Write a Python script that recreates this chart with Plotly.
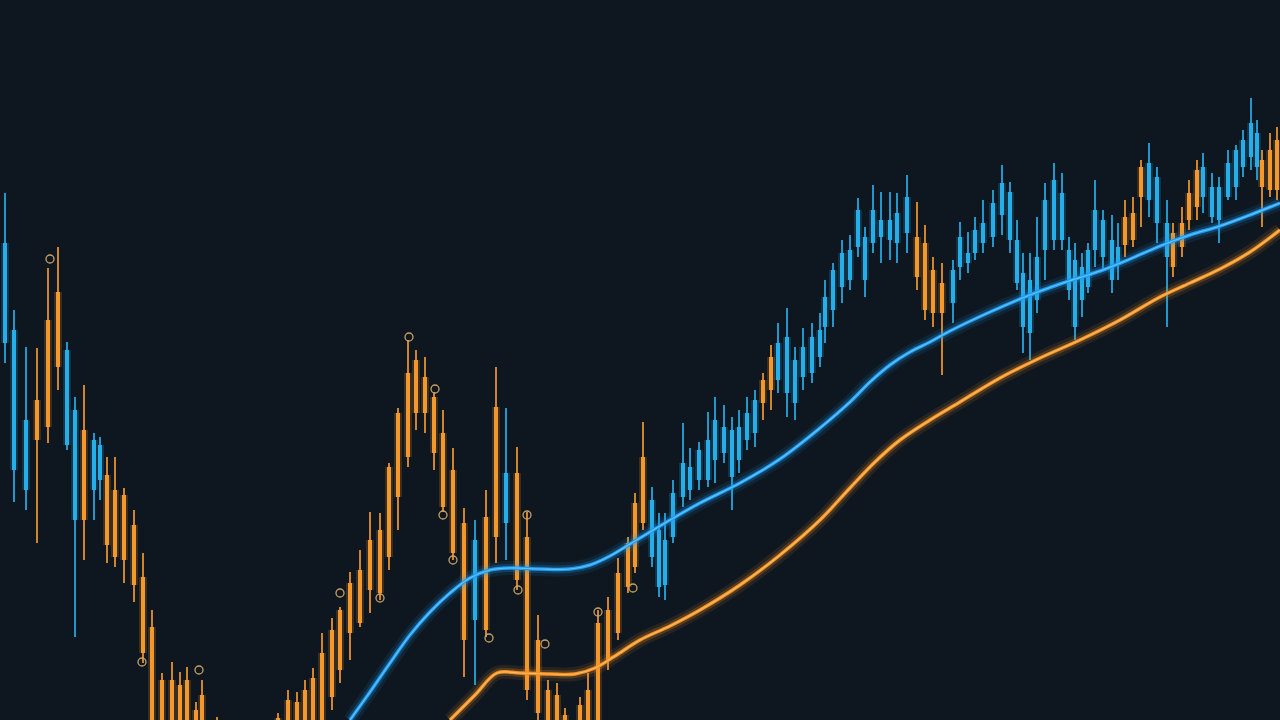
import plotly.graph_objects as go

# ---- candle data (price units; chart spans 0..720 vertically, x is bar position) ----
cx = [5, 14, 26, 37, 48, 58, 67, 75, 84, 94, 100, 107, 115, 124, 134, 143, 152, 162, 172, 180,
      187, 196, 202, 217, 278, 288, 297, 305, 313, 322, 332, 340, 350, 360, 370, 380, 389, 398, 408, 416,
      425, 434, 443, 453, 464, 475, 486, 496, 506, 517, 527, 538, 548, 557, 565, 580, 588, 598, 608, 618,
      628, 635, 643, 652, 659, 665, 673, 683, 690, 699, 708, 715, 724, 732, 739, 747, 755, 763, 771, 778,
      787, 795, 803, 812, 820, 825, 833, 842, 850, 858, 865, 873, 881, 890, 897, 907, 917, 925, 933, 942,
      953, 960, 968, 975, 983, 993, 1002, 1010, 1017, 1023, 1030, 1037, 1045, 1054, 1062, 1069, 1075, 1082, 1088, 1095,
      1103, 1112, 1118, 1125, 1133, 1141, 1149, 1157, 1167, 1173, 1182, 1189, 1197, 1203, 1212, 1219, 1228, 1236, 1243, 1251,
      1257, 1262, 1270, 1277]
high = [527, 410, 373, 372, 452, 473, 378, 323, 335, 287, 283, 263, 263, 232, 210, 167, 110, 47, 58, 48,
        53, 18, 40, 3, 7, 30, 28, 40, 52, 87, 102, 113, 148, 170, 208, 207, 257, 312, 380, 370,
        363, 328, 310, 272, 212, 200, 230, 353, 312, 273, 208, 105, 40, 37, 12, 23, 47, 110, 123, 162,
        183, 227, 298, 233, 207, 207, 240, 297, 272, 278, 308, 323, 315, 303, 310, 323, 330, 347, 375, 397,
        412, 373, 392, 397, 407, 440, 457, 480, 485, 522, 493, 535, 528, 528, 527, 545, 518, 495, 463, 457,
        460, 498, 488, 503, 520, 530, 555, 538, 500, 467, 467, 503, 537, 557, 547, 483, 477, 467, 477, 540,
        510, 505, 497, 520, 523, 560, 577, 553, 520, 497, 513, 540, 560, 567, 547, 543, 570, 575, 590, 622,
        600, 570, 587, 593]
body_top = [477, 390, 300, 320, 400, 428, 370, 310, 290, 280, 275, 245, 230, 225, 195, 143, 93, 40, 40, 35,
            40, 10, 25, -2, 2, 20, 18, 30, 42, 67, 90, 110, 137, 150, 180, 190, 253, 307, 347, 360,
            343, 323, 287, 250, 197, 180, 203, 313, 247, 247, 183, 80, 30, 25, 5, 15, 30, 97, 110, 147,
            177, 217, 263, 220, 190, 180, 227, 257, 253, 270, 280, 300, 293, 290, 293, 307, 320, 340, 363, 377,
            383, 360, 373, 383, 390, 423, 450, 467, 470, 510, 483, 510, 500, 500, 507, 523, 483, 477, 450, 437,
            450, 483, 467, 490, 497, 517, 537, 528, 480, 447, 440, 463, 520, 540, 527, 470, 460, 453, 470, 510,
            500, 480, 473, 503, 507, 553, 557, 543, 497, 487, 497, 527, 550, 553, 533, 533, 557, 570, 580, 597,
            587, 560, 570, 580]
body_bot = [377, 250, 230, 280, 293, 353, 275, 200, 200, 230, 240, 175, 163, 160, 135, 67, -10, -10, -10, -10,
            -10, -10, -10, -10, -10, -10, -10, -10, -10, -10, 23, 50, 87, 97, 130, 127, 163, 223, 263, 307,
            307, 267, 213, 167, 80, 100, 90, 183, 197, 140, 30, 7, -10, -10, -10, -10, -10, -10, 60, 87,
            133, 153, 197, 163, 133, 135, 183, 223, 230, 240, 240, 260, 267, 243, 260, 280, 287, 317, 330, 340,
            327, 317, 343, 347, 363, 393, 410, 433, 440, 473, 440, 477, 483, 480, 477, 487, 443, 410, 407, 407,
            417, 453, 457, 467, 477, 483, 505, 480, 437, 393, 387, 420, 470, 480, 480, 430, 393, 420, 433, 470,
            463, 440, 457, 475, 480, 523, 520, 497, 463, 453, 473, 500, 513, 523, 503, 500, 523, 533, 553, 563,
            553, 533, 530, 530]
low = [357, 218, 210, 177, 277, 330, 270, 83, 160, 200, 220, 157, 153, 137, 118, 57, -20, -20, -20, -20,
       -20, -20, -20, -20, -20, -20, -20, -20, -20, -20, 10, 37, 60, 93, 107, 120, 150, 190, 253, 290,
       287, 250, 208, 160, 43, 35, 83, 157, 160, 130, 20, -10, -20, -20, -20, -20, -20, -20, 50, 80,
       127, 147, 190, 153, 123, 120, 177, 213, 220, 230, 233, 237, 257, 210, 247, 270, 273, 300, 310, 327,
       303, 300, 330, 337, 353, 377, 393, 417, 430, 463, 423, 467, 457, 460, 457, 467, 430, 400, 393, 345,
       397, 440, 447, 460, 467, 473, 485, 467, 430, 367, 360, 407, 440, 470, 470, 420, 380, 403, 427, 453,
       450, 427, 440, 463, 473, 493, 503, 477, 393, 443, 463, 490, 500, 507, 497, 477, 520, 520, 543, 550,
       540, 493, 523, 520]
# B = rising (blue), O = falling (orange)
direction = ("BBBOOOBBOBBOOOOOOOOO" "OOOOOOOOOOOOOOOOOOOO" "OOOOOBOOBOOOOOOOOOOO"
             "OOOBBBBBBBBBBBBBBOOB" "BBBBBBBBBBBBBBBBOOOO" "BBBBBBBBBBBBBBBBBBBB"
             "BBBOOOBBBOOOOBBBBBBB" "BOOO")

# ---- moving averages ----
ma_fast_x = [350, 370, 390, 410, 430, 450, 470, 490, 510, 540, 570, 590, 610, 630, 650, 670, 700,
             740, 780, 820, 850, 870, 890, 910, 930, 950, 990, 1030, 1060, 1100, 1130, 1160, 1190,
             1220, 1250, 1280]
ma_fast_y = [0, 28, 57, 85, 108, 127, 142, 150, 152, 151, 151, 155, 164, 176, 188, 200, 217,
             237, 261, 292, 318, 338, 355, 368, 378, 389, 408, 425, 436, 449, 461, 474, 485,
             494, 505, 517]
ma_slow_x = [450, 475, 497, 520, 550, 575, 595, 615, 640, 670, 700, 740, 780, 820, 850, 875, 900,
             930, 960, 1000, 1040, 1080, 1120, 1160, 1190, 1220, 1250, 1280]
ma_slow_y = [0, 25, 47, 47, 46, 46, 52, 64, 80, 94, 110, 135, 165, 200, 232, 258, 280,
             300, 318, 342, 362, 380, 400, 423, 437, 451, 468, 490]

# ---- signal markers ----
sig_x = [50, 142, 199, 340, 380, 409, 435, 443, 453, 489, 518, 527, 545, 598, 633]
sig_y = [461, 58, 50, 127, 122, 383, 331, 205, 160, 82, 130, 205, 76, 108, 132]

BLUE = "#25aeea"
ORANGE = "#f5982c"
BG = "#0e1720"

fig = go.Figure()

for d, col in (("B", BLUE), ("O", ORANGE)):
    idx = [i for i, c in enumerate(direction) if c == d]
    xs = [cx[i] for i in idx]
    # glow behind bodies
    fig.add_trace(go.Bar(x=xs, base=[body_bot[i] for i in idx],
                         y=[body_top[i] - body_bot[i] for i in idx],
                         width=8, marker=dict(color=col, line=dict(width=0)), opacity=0.18,
                         hoverinfo="skip"))
    # wicks
    fig.add_trace(go.Bar(x=xs, base=[low[i] for i in idx],
                         y=[high[i] - low[i] for i in idx],
                         width=1.6, marker=dict(color=col, line=dict(width=0)), opacity=0.85,
                         hoverinfo="skip"))
    # bodies
    fig.add_trace(go.Bar(x=xs, base=[body_bot[i] for i in idx],
                         y=[body_top[i] - body_bot[i] for i in idx],
                         width=4, marker=dict(color=col, line=dict(width=0)),
                         hoverinfo="skip"))

for xs, ys, col, core in ((ma_fast_x, ma_fast_y, "#1f9cf2", "#6cc8ff"),
                          (ma_slow_x, ma_slow_y, "#f39022", "#ffc070")):
    for w, op, c in ((14, 0.10, col), (8, 0.22, col), (3.5, 1.0, col), (1.2, 0.9, core)):
        fig.add_trace(go.Scatter(x=xs, y=ys, mode="lines",
                                 line=dict(color=c, width=w, shape="spline", smoothing=1.0),
                                 opacity=op, hoverinfo="skip"))

fig.add_trace(go.Scatter(x=sig_x, y=sig_y, mode="markers",
                         marker=dict(symbol="circle-open", size=8, color="#c9a064",
                                     line=dict(width=1.3)),
                         hoverinfo="skip"))

fig.update_layout(
    width=1280, height=720,
    margin=dict(l=0, r=0, t=0, b=0),
    paper_bgcolor=BG, plot_bgcolor=BG,
    barmode="overlay", bargap=0,
    showlegend=False,
    xaxis=dict(range=[0, 1280], visible=False, showgrid=False, zeroline=False, fixedrange=True),
    yaxis=dict(range=[0, 720], visible=False, showgrid=False, zeroline=False, fixedrange=True),
)

fig.write_html("out.html", config={"displayModeBar": False, "responsive": False},
               post_script="document.body.style.margin='0';document.body.style.overflow='hidden';"
                           "document.body.style.background='#0e1720';")
